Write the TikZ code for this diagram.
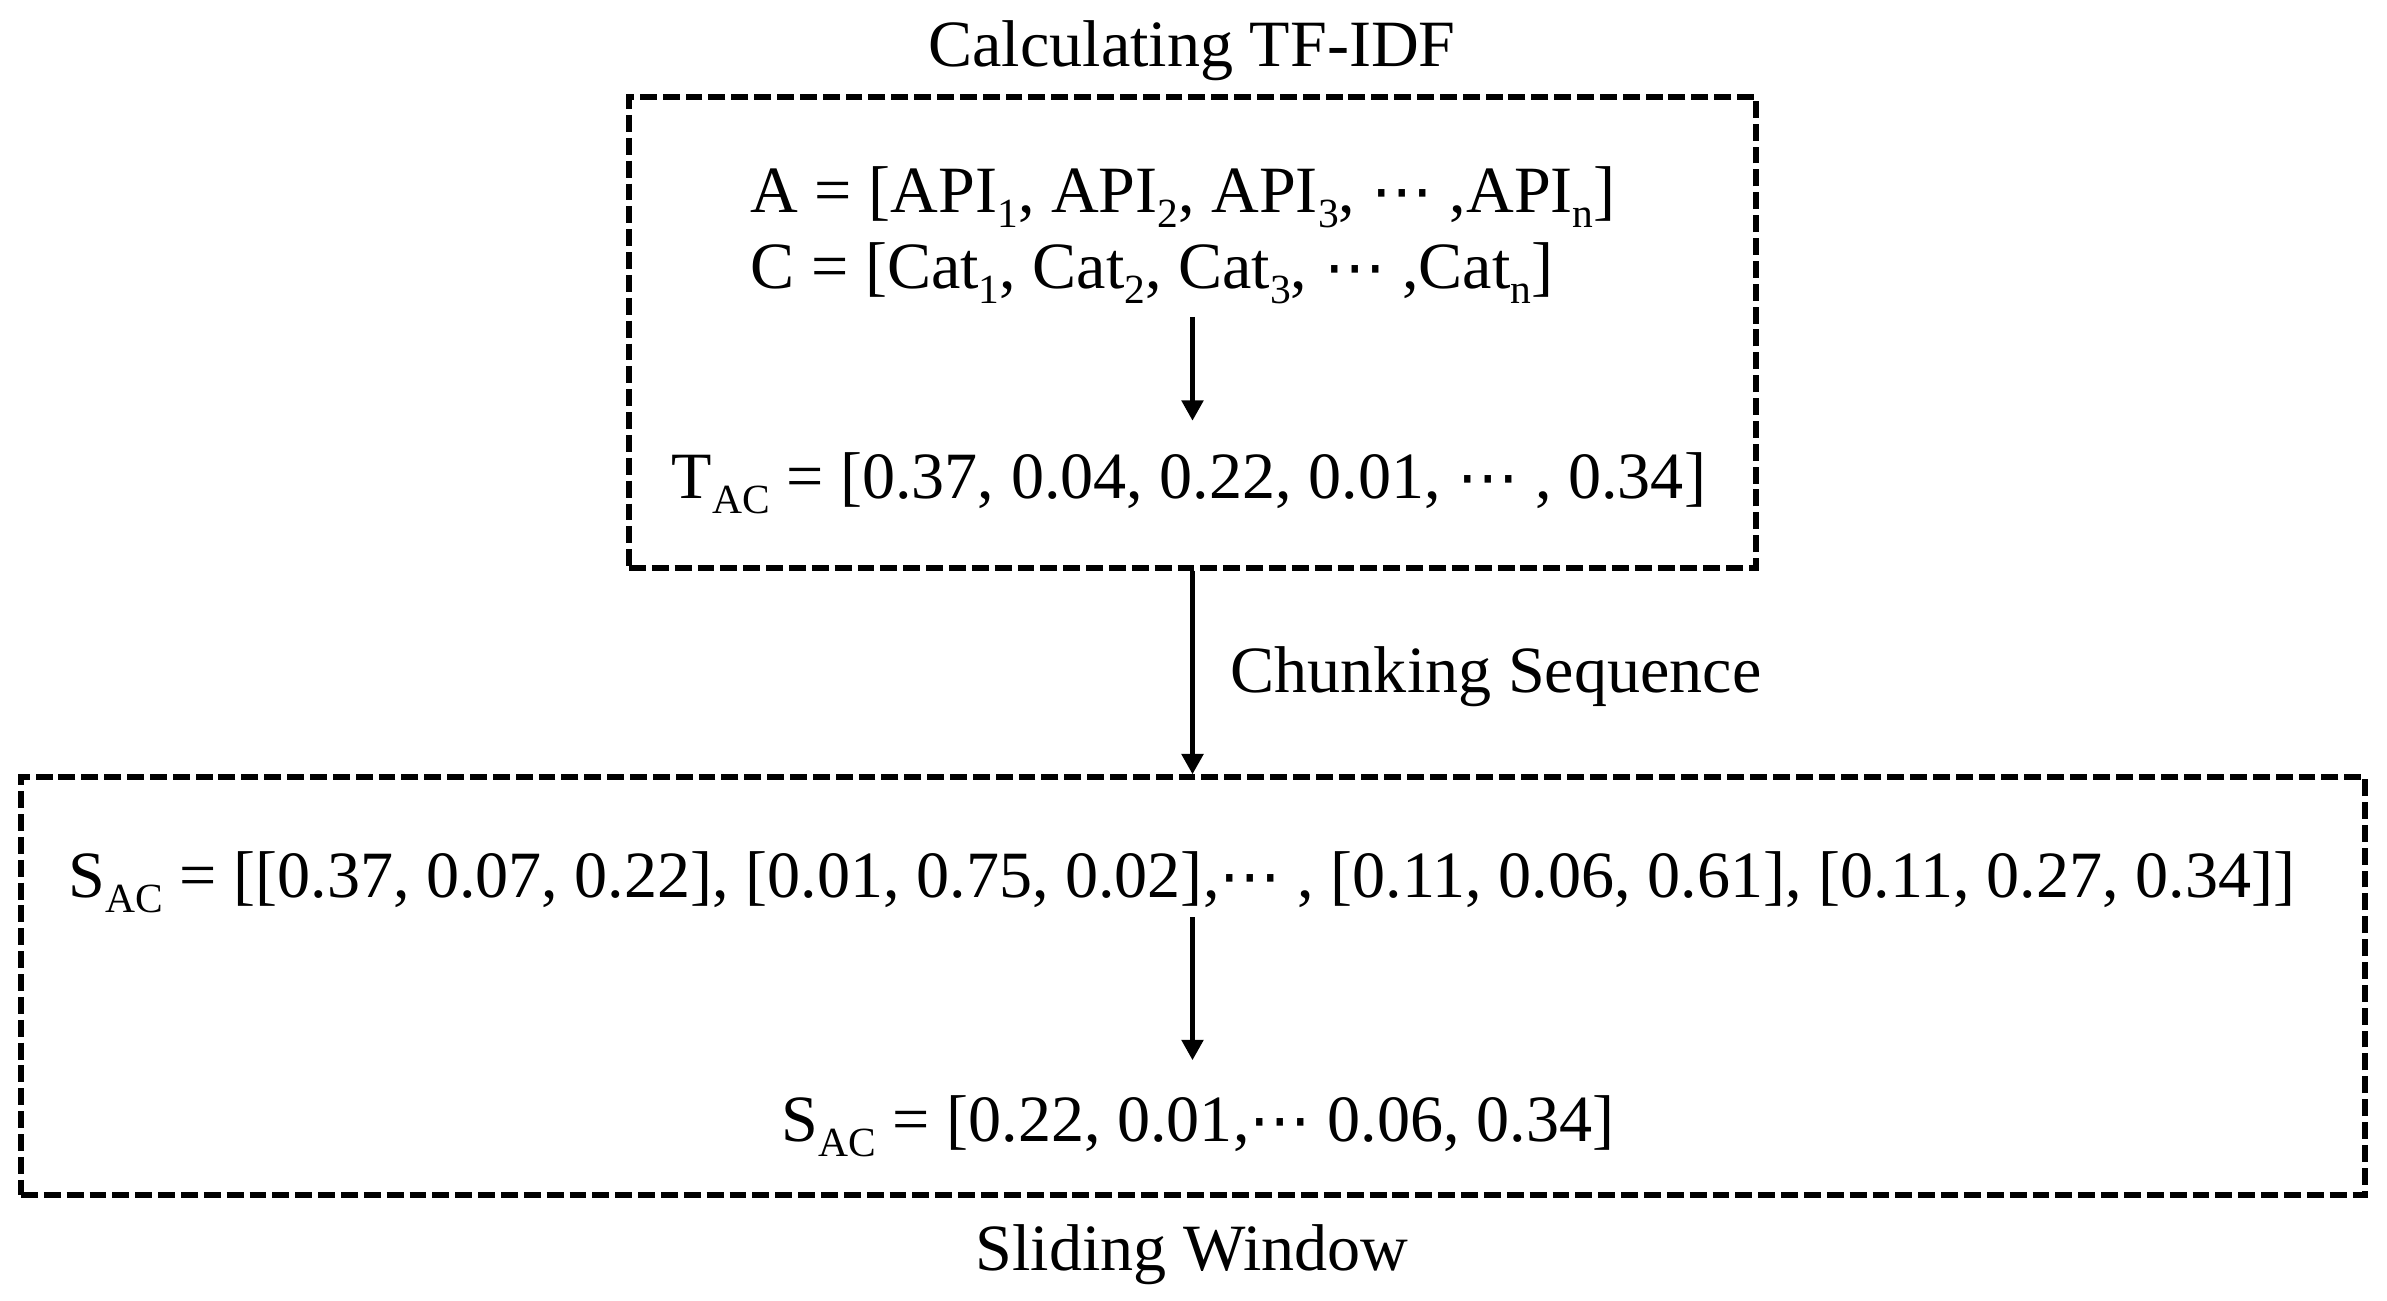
\documentclass[tikz,border=0pt]{standalone}
\usepackage{fontspec}
\setmainfont{Liberation Serif}
\newfontfamily\dotsfont{DejaVu Sans}
\usetikzlibrary{arrows.meta,fit}
\newcommand\lsub[1]{\raisebox{-0.22em}{\fontsize{11.8pt}{12pt}\selectfont #1}}
\newcommand\mydots{{\dotsfont\fontsize{17.5pt}{18pt}\selectfont ⋯}}
\begin{document}
\begin{tikzpicture}[x=0.01cm,y=-0.01cm,
  dbox/.style={draw, line width=1.5pt, dash pattern=on 4.8pt off 1.7pt, inner sep=0pt},
  txt/.style={inner sep=0pt, font=\fontsize{18.8pt}{22pt}\selectfont},
  arr/.style={line width=1.4pt, -{Triangle[length=5.8pt,width=6pt]}}]
\useasboundingbox (0,0) rectangle (2387,1301);
\node[txt, anchor=base] (title) at (1192,67) {Calculating TF-IDF};
\node[dbox, fit={(629,97) (1756,568)}] (box1) {};
\node[txt, anchor=base west] (lineA) at (750,213) {A = [API\lsub{1}, API\lsub{2}, API\lsub{3}, \mydots\ ,API\lsub{n}]};
\node[txt, anchor=base west] (lineC) at (750,289) {C = [Cat\lsub{1}, Cat\lsub{2}, Cat\lsub{3}, \mydots\ ,Cat\lsub{n}]};
\node[txt, anchor=base] (tac) at (1189,499) {T\lsub{AC} = [0.37, 0.04, 0.22, 0.01, \mydots\ , 0.34]};
\draw[arr, shorten <=3.5pt, shorten >=9pt] (lineC.south -| box1.center) -- (tac.north -| box1.center);
\node[dbox, fit={(21,777) (2365,1195)}] (box2) {};
\draw[arr] (box1.south) -- (box1.south |- box2.north);
\node[txt, anchor=base west] (chunk) at (1230,693) {Chunking Sequence};
\node[txt, anchor=base] (s1) at (1182,898) {S\lsub{AC} = [[0.37, 0.07, 0.22], [0.01, 0.75, 0.02],\mydots\ , [0.11, 0.06, 0.61], [0.11, 0.27, 0.34]]};
\node[txt, anchor=base] (s2) at (1198,1142) {S\lsub{AC} = [0.22, 0.01,\mydots\ 0.06, 0.34]};
\draw[arr, shorten <=1pt, shorten >=10pt] (s1.south -| box1.center) -- (s2.north -| box1.center);
\node[txt, anchor=base] (slide) at (1192,1271) {Sliding Window};
\end{tikzpicture}
\end{document}
